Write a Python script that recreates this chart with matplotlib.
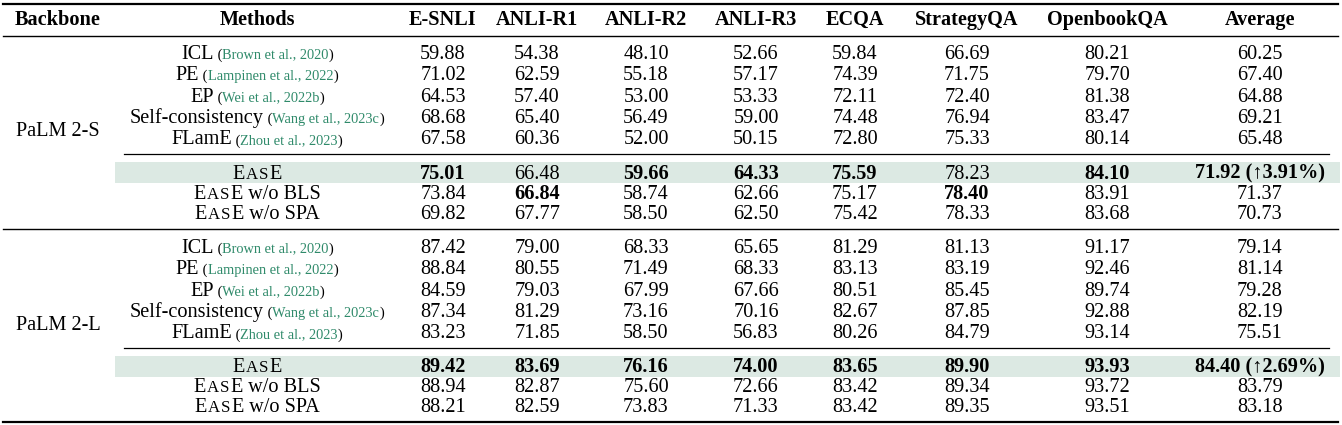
import matplotlib
matplotlib.use("Agg")
import matplotlib.pyplot as plt
from matplotlib.patches import Rectangle

# ---------------- data ----------------
columns = ["Backbone", "Methods", "E-SNLI", "ANLI-R1", "ANLI-R2", "ANLI-R3",
           "ECQA", "StrategyQA", "OpenbookQA", "Average"]
backbones = ["PaLM 2-S", "PaLM 2-L"]
methods = ["ICL", "PE", "EP", "Self-consistency", "FLamE", "EASE", "EASE w/o BLS", "EASE w/o SPA"]
citations = ["Brown et al., 2020", "Lampinen et al., 2022", "Wei et al., 2022b",
             "Wang et al., 2023c", "Zhou et al., 2023", None, None, None]

palm_s = [
    [59.88, 54.38, 48.10, 52.66, 59.84, 66.69, 80.21, 60.25],
    [71.02, 62.59, 55.18, 57.17, 74.39, 71.75, 79.70, 67.40],
    [64.53, 57.40, 53.00, 53.33, 72.11, 72.40, 81.38, 64.88],
    [68.68, 65.40, 56.49, 59.00, 74.48, 76.94, 83.47, 69.21],
    [67.58, 60.36, 52.00, 50.15, 72.80, 75.33, 80.14, 65.48],
    [75.01, 66.48, 59.66, 64.33, 75.59, 78.23, 84.10, 71.92],
    [73.84, 66.84, 58.74, 62.66, 75.17, 78.40, 83.91, 71.37],
    [69.82, 67.77, 58.50, 62.50, 75.42, 78.33, 83.68, 70.73],
]
palm_l = [
    [87.42, 79.00, 68.33, 65.65, 81.29, 81.13, 91.17, 79.14],
    [88.84, 80.55, 71.49, 68.33, 83.13, 83.19, 92.46, 81.14],
    [84.59, 79.03, 67.99, 67.66, 80.51, 85.45, 89.74, 79.28],
    [87.34, 81.29, 73.16, 70.16, 82.67, 87.85, 92.88, 82.19],
    [83.23, 71.85, 58.50, 56.83, 80.26, 84.79, 93.14, 75.51],
    [89.42, 83.69, 76.16, 74.00, 83.65, 89.90, 93.93, 84.40],
    [88.94, 82.87, 75.60, 72.66, 83.42, 89.34, 93.72, 83.79],
    [88.21, 82.59, 73.83, 71.33, 83.42, 89.35, 93.51, 83.18],
]
gains = ["↑3.91%", "↑2.69%"]
# bold cells: (row, col)
bold_s = [(5, 0), (5, 2), (5, 3), (5, 4), (5, 6), (5, 7), (6, 1), (6, 5)]
bold_l = [(5, c) for c in range(8)]

# ---------------- layout ----------------
W, H = 1342, 425
fig = plt.figure(figsize=(W / 100, H / 100), dpi=100)
ax = fig.add_axes([0, 0, 1, 1])
ax.set_xlim(0, W)
ax.set_ylim(H, 0)
ax.axis("off")
renderer = fig.canvas.get_renderer()

FAM = ["Liberation Serif", "DejaVu Serif"]
FS = 14.6
FS_SC = 12.2
FS_CITE = 10.4
CITE_COLOR = "#2f8a6a"
SHADE = "#dce9e3"

col_x = [58, 257, 443, 537, 646, 756, 855, 967, 1107, 1260]
header_y = 18
row_y = [52, 73.5, 95, 116.5, 138, 172, 192, 212]
group_off = 194
BASE = 6.5  # baseline offset from row center


def draw_segments(segments, xc, yb):
    """segments: list of (text, size, color, weight, gap_after); centered at xc, baseline yb"""
    texts = []
    for s, size, color, weight, gap in segments:
        t = ax.text(0, yb, s, fontsize=size, color=color, fontweight=weight,
                    family=FAM, ha="left", va="baseline")
        texts.append(t)
    widths = [t.get_window_extent(renderer).width + seg[4]
              for t, seg in zip(texts, segments)]
    total = sum(widths)
    x = xc - total / 2
    for t, w in zip(texts, widths):
        t.set_x(x)
        x += w


def method_segments(name, cite):
    segs = []
    if name.startswith("EASE"):
        segs += [("E", FS, "black", "normal", 1.2), ("A", FS_SC, "black", "normal", 1.2),
                 ("S", FS_SC, "black", "normal", 1.2), ("E", FS, "black", "normal", 0)]
        rest = name[4:]
        if rest:
            segs.append((rest, FS, "black", "normal", 0))
    else:
        segs.append((name, FS, "black", "normal", 0))
    if cite:
        segs += [(" (", FS_CITE, "black", "normal", 0), (cite, FS_CITE, CITE_COLOR, "normal", 0),
                 (")", FS_CITE, "black", "normal", 0)]
    return segs


# rules
ax.plot([3, 1338], [3.5, 3.5], color="black", lw=1.6)
ax.plot([3, 1338], [35.5, 35.5], color="black", lw=1.0)
ax.plot([3, 1338], [229, 229], color="black", lw=1.0)
ax.plot([3, 1338], [422, 422], color="black", lw=1.6)

# header
for x, c in zip(col_x, columns):
    ax.text(x, header_y + BASE, c, fontsize=FS, fontweight="bold", family=FAM,
            ha="center", va="baseline")

for g, (bb, data, bolds, gain) in enumerate(zip(backbones, [palm_s, palm_l],
                                                 [bold_s, bold_l], gains)):
    off = g * group_off
    # shaded EASE row and partial rule
    ax.add_patch(Rectangle((115, 161.5 + off), 1340 - 115, 21.5,
                           facecolor=SHADE, edgecolor="none", zorder=0))
    ax.plot([124, 1329], [154 + off, 154 + off], color="black", lw=0.9)
    # backbone label
    ax.text(col_x[0], (row_y[0] + row_y[-1]) / 2 + off + BASE - 3, bb, fontsize=FS,
            family=FAM, ha="center", va="baseline")
    for r, (m, cite) in enumerate(zip(methods, citations)):
        yb = row_y[r] + off + BASE
        draw_segments(method_segments(m, cite), col_x[1], yb)
        for c, v in enumerate(data[r]):
            s = f"{v:.2f}"
            if r == 5 and c == 7:
                s = f"{s} ({gain})"
            weight = "bold" if (r, c) in bolds else "normal"
            ax.text(col_x[c + 2], yb, s, fontsize=FS, fontweight=weight, family=FAM,
                    ha="center", va="baseline")

fig.savefig("out.png", dpi=100)
